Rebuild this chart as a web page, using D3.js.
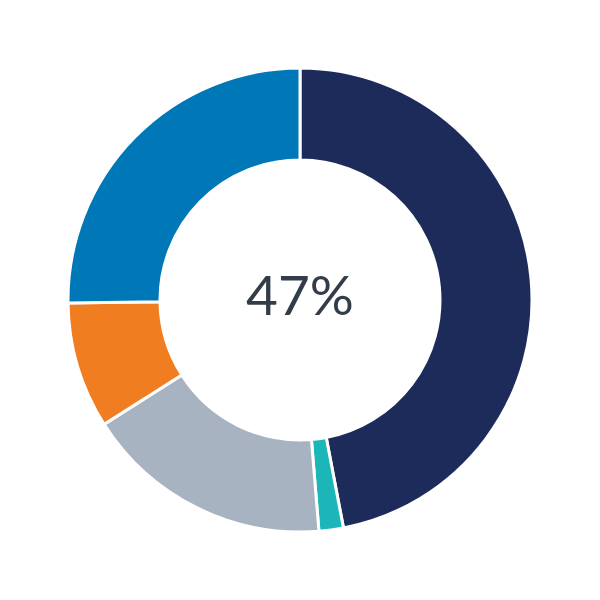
<!DOCTYPE html>
<html>
<head>
<meta charset="utf-8">
<script src="https://cdn.jsdelivr.net/npm/d3@7"></script>
<style>
  body { margin: 0; background: #fff; }
</style>
</head>
<body>
<div id="wrapper"></div>
<script>
// Share of each segment, clockwise from 12 o'clock
const categories = ["A", "B", "C", "D", "E"]
const values = [47, 1.7, 17.3, 8.8, 25.2]
const colors = ["#1c2b5a", "#1cb5b8", "#a8b3c2", "#f17d21", "#0077b6"]
const centerLabel = "47%"

function drawDonut() {
    const width = 600
    const height = 600
    const outerRadius = 232
    const innerRadius = 140

    const svg = d3.select("#wrapper")
        .append("svg")
        .attr("width", width)
        .attr("height", height)

    const bounds = svg.append("g")
        .attr("transform", `translate(${width / 2}, ${height / 2})`)

    const pie = d3.pie()
        .sort(null)
        .value(d => d.value)

    const arc = d3.arc()
        .innerRadius(innerRadius)
        .outerRadius(outerRadius)

    const data = categories.map((c, i) => ({ name: c, value: values[i], color: colors[i] }))

    bounds.selectAll("path")
        .data(pie(data))
        .join("path")
        .attr("d", arc)
        .attr("fill", d => d.data.color)
        .attr("stroke", "#fff")
        .attr("stroke-width", 3)

    // baseline sits a bit below centre, caps centred near y=295
    bounds.append("text")
        .attr("text-anchor", "middle")
        .attr("y", 15)
        .attr("font-family", "Lato, 'Open Sans', sans-serif")
        .attr("font-weight", 400)
        .attr("font-size", 55)
        .attr("fill", "#333d4a")
        .text(centerLabel)
}

drawDonut()
</script>
</body>
</html>
